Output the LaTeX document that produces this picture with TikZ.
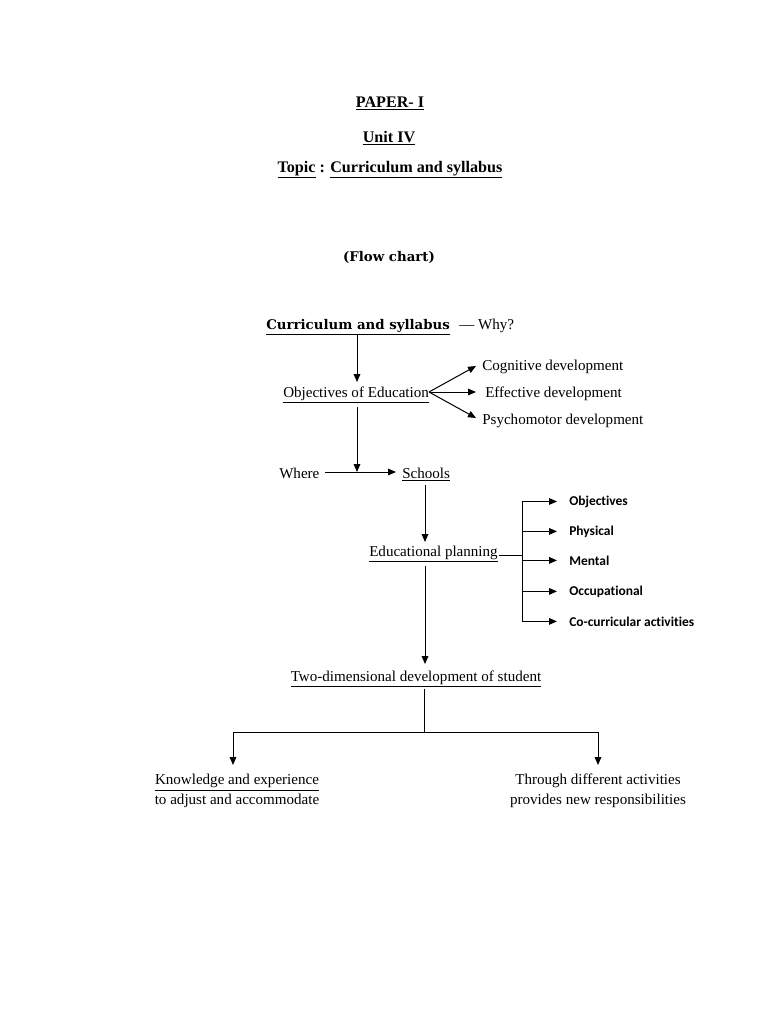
\documentclass[tikz,border=0pt]{standalone}
\usepackage{fontspec}
\setmainfont{Liberation Serif}
\newfontfamily\calfont[Ligatures=NoCommon]{Carlito}
\newfontfamily\cambfont{DejaVu Serif}
\usetikzlibrary{arrows.meta}
\begin{document}
\begin{tikzpicture}[x=0.75pt,y=-0.75pt,
  txt/.style={font=\fontsize{11.3}{13}\selectfont, inner sep=0pt, anchor=mid},
  ttl/.style={font=\fontsize{12.1}{14}\selectfont\bfseries, inner sep=0pt, anchor=mid},
  camb/.style={font=\fontsize{10}{12}\selectfont\cambfont\bfseries, inner sep=0pt, anchor=mid},
  cal/.style={font=\fontsize{10.1}{12}\selectfont\calfont\bfseries, inner sep=0pt, anchor=mid west},
  arr/.style={line width=0.75pt, -{Triangle[length=6pt,width=5pt]}},
  ln/.style={line width=0.75pt}]
\fill[white] (0,0) rectangle (768,1024);
\useasboundingbox (0,0) rectangle (768,1024);
% titles
\node[ttl] (paper) at (390,104) {\underline{PAPER- I}};
\node[ttl] (unit) at (389,139) {\underline{Unit IV}};
\node[ttl] (topic) at (390,169) {\underline{Topic} : \underline{Curriculum and syllabus}};
\node[camb] (flow) at (389,258) {(Flow chart)};
% main chain
\node[camb, anchor=mid west] (cs) at (266,326) {\underline{Curriculum and syllabus}};
\node[txt, anchor=mid west] (why) at (459,326) {\textendash\textendash{} Why?};
\node[txt, anchor=mid west] (obj) at (283,394) {\underline{Objectives of Education}};
\node[txt, anchor=mid west] (cog) at (482,367) {Cognitive development};
\node[txt, anchor=mid west] (eff) at (485,394) {Effective development};
\node[txt, anchor=mid west] (psy) at (482,421) {Psychomotor development};
\node[txt, anchor=mid west] (where) at (279,475) {Where};
\node[txt, anchor=mid west] (sch) at (402,475) {\underline{Schools}};
\node[txt, anchor=mid west] (edu) at (369,553) {\underline{Educational planning}};
\node[cal] (o1) at (569,502) {Objectives};
\node[cal] (o2) at (569,532) {Physical};
\node[cal] (o3) at (569,562) {Mental};
\node[cal] (o4) at (569,592) {Occupational};
\node[cal] (o5) at (569,623) {Co-curricular activities};
\node[txt] (two) at (416,678) {\underline{Two-dimensional development of student}};
\node[txt, align=center, anchor=north] (kn) at (237,774) {\underline{Knowledge and experience}\\[1.7pt]to adjust and accommodate};
\node[txt, align=center, anchor=north] (th) at (598,774) {Through different activities\\[1.7pt]provides new responsibilities};
% coordinates
\coordinate (a1s) at (357,334);
\coordinate (a1e) at (357,382);
\coordinate (j1) at (357,472);
\coordinate (fan) at (429,392);
\coordinate (t1) at (476,366);
\coordinate (t2) at (476,392);
\coordinate (t3) at (476,418);
\coordinate (wS) at (325,472);
\coordinate (wE) at (396,472);
\coordinate (s1) at (425,485);
\coordinate (s2) at (425,542);
\coordinate (b0) at (499,555);
\coordinate (b1) at (522,555);
\coordinate (e1) at (425,566);
\coordinate (e2) at (425,664);
\coordinate (d0) at (424,689);
\coordinate (d1) at (424,732);
\coordinate (dl) at (233,732);
\coordinate (dr) at (598,732);
\coordinate (kl) at (233,765);
\coordinate (kr) at (598,765);
% connectors
\draw[arr] (a1s) -- (a1e);
\draw[arr] (obj.south -| j1) ++(0,4) -- (j1);
\draw[arr] (fan) -- (t1);
\draw[arr] (fan) -- (t2);
\draw[arr] (fan) -- (t3);
\draw[arr] (wS) -- (wE);
\draw[arr] (s1) -- (s2);
\draw[ln] (b0) -- (b1);
\draw[ln] (o1.west -| b1) -- (o5.west -| b1);
\foreach \n in {o1,o2,o3,o4,o5} \draw[arr] (\n.west -| b1) -- ([xshift=-9pt]\n.west);
\draw[arr] (e1) -- (e2);
\draw[ln] (d0) -- (d1);
\draw[ln] (dl) -- (dr);
\draw[arr] (dl) -- (kl);
\draw[arr] (dr) -- (kr);
\end{tikzpicture}
\end{document}
